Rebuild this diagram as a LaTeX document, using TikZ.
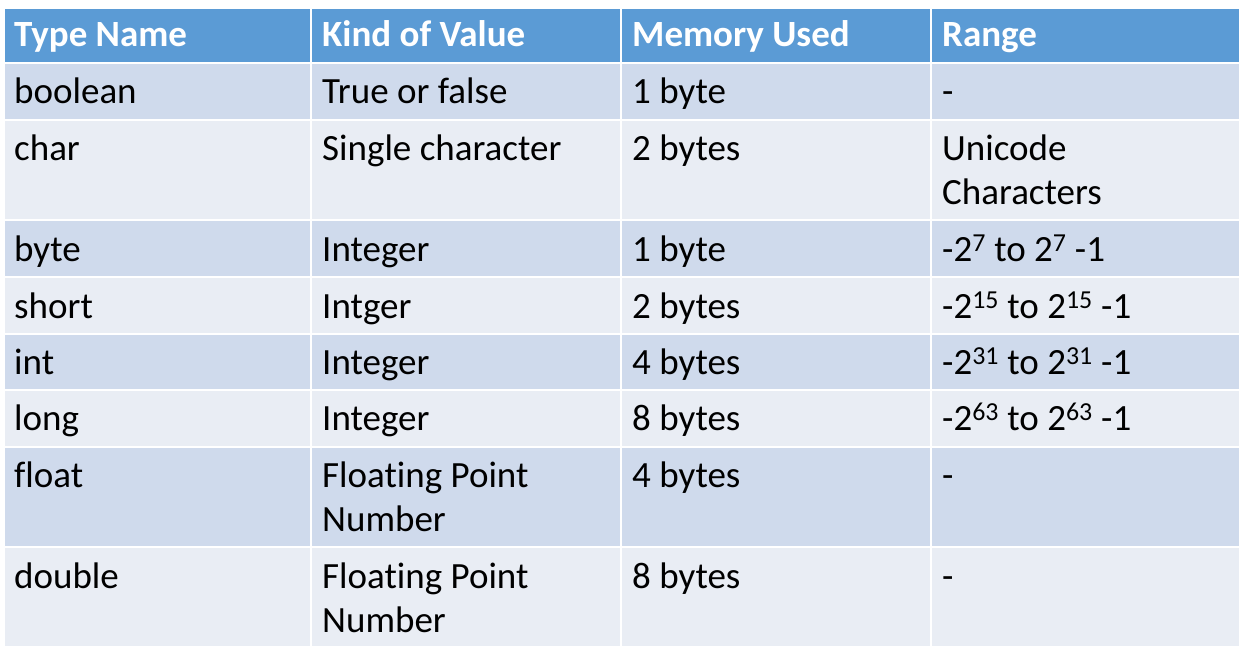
\documentclass[tikz,border=0pt]{standalone}
\usepackage{fontspec}
\setmainfont[Ligatures={NoCommon}]{Carlito}
\definecolor{hdr}{HTML}{5B9BD5}
\definecolor{rowA}{HTML}{CFDAEC}
\definecolor{rowB}{HTML}{E9EDF4}
\tikzset{cell/.style={draw=white,line width=2pt},
  txt/.style={anchor=base west,inner sep=0pt,font=\fontsize{37}{44}\selectfont},
  htxt/.style={txt,font=\fontsize{37}{44}\selectfont\bfseries,text=white}}
\begin{document}
\begin{tikzpicture}[x=1pt,y=-1pt]
\useasboundingbox (0,0) rectangle (1244,666);
\fill[white] (0,0) rectangle (1244,666);
\foreach \t/\b/\c in {8/63/hdr,63/120/rowA,120/220/rowB,220/277/rowA,277/334/rowB,334/390/rowA,390/447/rowB,447/547/rowA,547/647/rowB}{
  \foreach \l/\r in {4/311,311/621,621/931,931/1240}{
    \filldraw[cell,fill=\c] (\l,\t) rectangle (\r,\b);
  }
}
\node[htxt] (h1) at (14,47) {Type Name};
\node[htxt] (h2) at (322,47) {Kind of Value};
\node[htxt] (h3) at (632,47) {Memory Used};
\node[htxt] (h4) at (942,47) {Range};
\foreach \y/\a/\b/\c/\d [count=\i] in {
  104/boolean/True or false/1 byte/-,
  160/char/Single character/2 bytes/Unicode,
  261/byte/Integer/1 byte/-2\textsuperscript{7} to 2\textsuperscript{7} -1,
  318/short/Intger/2 bytes/-2\textsuperscript{15} to 2\textsuperscript{15} -1,
  374/int/Integer/4 bytes/-2\textsuperscript{31} to 2\textsuperscript{31} -1,
  430/long/Integer/8 bytes/-2\textsuperscript{63} to 2\textsuperscript{63} -1,
  487/float/Floating Point/4 bytes/-,
  588/double/Floating Point/8 bytes/-}{
  \node[txt] (a\i) at (14,\y) {\a};
  \node[txt] (b\i) at (322,\y) {\b};
  \node[txt] (c\i) at (632,\y) {\c};
  \node[txt] (d\i) at (942,\y) {\d};
}
\node[txt] (d2b) at (942,204) {Characters};
\node[txt] (b7b) at (322,531) {Number};
\node[txt] (b8b) at (322,632) {Number};
\end{tikzpicture}
\end{document}
